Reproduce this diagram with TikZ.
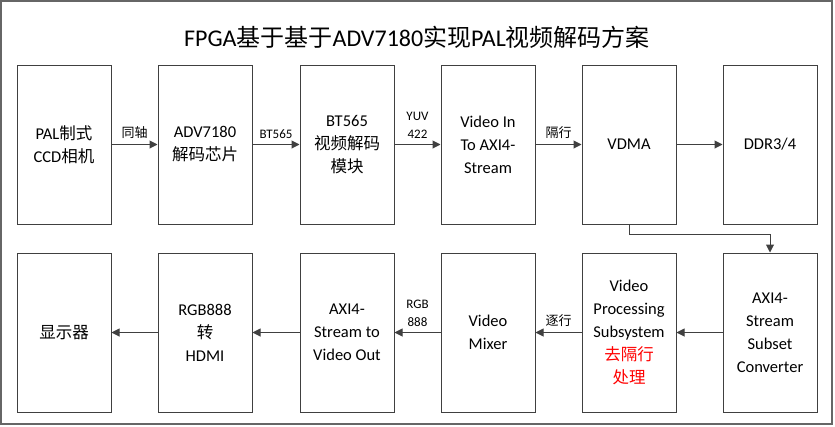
\documentclass[tikz,border=0pt]{standalone}
\usepackage{fontspec}
\setmainfont{Carlito}
\newfontfamily\cjk{Noto Sans CJK SC}
\newcommand{\zh}[1]{{\cjk #1}}
\usetikzlibrary{arrows.meta}
\begin{document}
\begin{tikzpicture}[x=1pt,y=-1pt,
  blk/.style={draw=black!75,line width=1pt,minimum width=94pt,minimum height=159pt,align=center,font=\fontsize{16.5}{23}\selectfont,inner sep=1pt},
  arr/.style={draw=black!75,line width=1pt,-{Triangle[length=8pt,width=8pt]}},
  lab/.style={font=\fontsize{13}{18}\selectfont,align=center}]
\useasboundingbox (0,0) rectangle (835,426);
\draw[black!60,line width=1.5pt] (1,1) rectangle (832,424);
\node[font=\fontsize{24}{27}\selectfont] (title) at (417,37) {FPGA\zh{基于基于}ADV7180\zh{实现}PAL\zh{视频解码方案}};
\node[blk] (a) at (64,144.5) {PAL\zh{制式}\\CCD\zh{相机}};
\node[blk] (b) at (205,144.5) {ADV7180\\\zh{解码芯片}};
\node[blk] (c) at (347,144.5) {BT565\\\zh{视频解码}\\\zh{模块}};
\node[blk] (d) at (488,144.5) {Video In\\To AXI4-\\Stream};
\node[blk] (e) at (629,144.5) {VDMA};
\node[blk] (f) at (770,144.5) {DDR3/4};
\node[blk] (g) at (770,332.5) {AXI4-\\Stream\\Subset\\Converter};
\node[blk] (h) at (629,332.5) {Video\\Processing\\Subsystem\\{\color{red}\zh{去隔行}}\\{\color{red}\zh{处理}}};
\node[blk] (i) at (488,332.5) {Video\\Mixer};
\node[blk] (j) at (347,332.5) {AXI4-\\Stream to\\Video Out};
\node[blk] (k) at (205,332.5) {RGB888\\\zh{转}\\HDMI};
\node[blk] (l) at (64,332.5) {\zh{显示器}};
\draw[arr] (a) -- node[lab,above=2pt]{\zh{同轴}} (b);
\draw[arr] (b) -- node[lab,above=2pt]{BT565} (c);
\draw[arr] (c) -- node[lab,above=2pt]{YUV\\422} (d);
\draw[arr] (d) -- node[lab,above=2pt]{\zh{隔行}} (e);
\draw[arr] (e) -- (f);
\coordinate (t1) at (629,234);
\coordinate (t2) at (770,234);
\draw[arr] (e.south) -- (t1) -- (t2) -- (g.north);
\draw[arr] (g) -- (h);
\draw[arr] (h) -- node[lab,above=2pt]{\zh{逐行}} (i);
\draw[arr] (i) -- node[lab,above=2pt]{RGB\\888} (j);
\draw[arr] (j) -- (k);
\draw[arr] (k) -- (l);
\end{tikzpicture}
\end{document}
